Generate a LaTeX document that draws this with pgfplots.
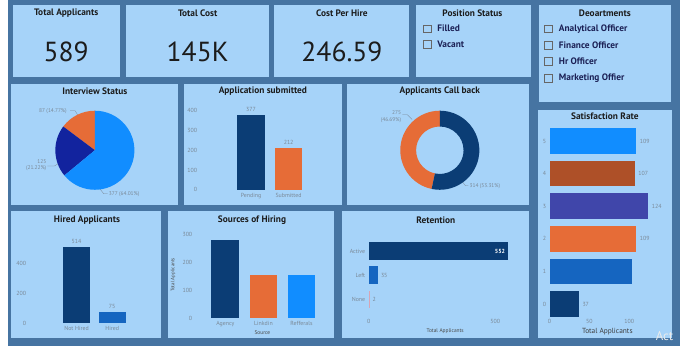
\documentclass[border=0pt]{standalone}
\usepackage{pgfplots}
\pgfplotsset{compat=1.18}
\usepackage{fontspec}
\setmainfont{PT Sans}
\definecolor{bg}{HTML}{4674A2}
\definecolor{panel}{HTML}{A6D3F9}
\definecolor{navy}{HTML}{0B3D75}
\definecolor{pbblue}{HTML}{118DFF}
\definecolor{pborange}{HTML}{E66C37}
\definecolor{pbnavy}{HTML}{12239E}
\definecolor{medblue}{HTML}{1565C0}
\definecolor{rust}{HTML}{AE5028}
\definecolor{indigo}{HTML}{4046AA}
\definecolor{pinkish}{HTML}{D8A4B4}
\definecolor{tickgray}{HTML}{7A8896}
\definecolor{titlec}{HTML}{1C1C1C}
\definecolor{slicer}{HTML}{1B2055}
\pgfplotsset{
 /pgf/number format/assume math mode=true,
 dashax/.style={scale only axis, clip=false,
   axis line style={draw=none}, tick style={draw=none}, major tick length=0pt,
   ticklabel style={font=\fontsize{6}{7}\selectfont, text=tickgray},
   every node near coord/.append style={font=\fontsize{6}{7}\selectfont, text=tickgray}}
}
\newcommand\ttlf{\fontsize{9.5}{11}\selectfont\bfseries}
\newcommand\slf{\fontsize{9.5}{11}\selectfont\bfseries}
\newcommand\lblf{\fontsize{5.5}{6.5}\selectfont}
\begin{document}
\pgfmathsetmacro\pA{90+87/589*360}
\pgfmathsetmacro\pB{\pA+125/589*360}
\pgfmathsetmacro\dA{90+275/589*360}
\begin{tikzpicture}
\begin{scope}[x=1bp,y=-1bp]
\fill[bg] (0,0) rectangle (680,350);
\foreach \a/\b/\c/\d in {5/5/113/78, 119/5/264/78, 269/5/406/78, 413/5/529/78, 537/5/671/103, 3/85/172/207, 178/85/338/207, 343/85/527/207, 536/111/672/342, 3/213/155/342, 162/213/330/342, 338/213/527/342}
  \fill[panel] (\a,\b) rectangle (\c,\d);
% titles
\node[text=titlec,font=\ttlf] at (59,13) {Total Applicants};
\node[text=titlec,font=\ttlf] at (192,13) {Total Cost};
\node[text=titlec,font=\ttlf] at (338,13) {Cost Per Hire};
\node[text=titlec,font=\ttlf] at (470,13) {Position Status};
\node[text=titlec,font=\ttlf] at (604,13) {Deoartments};
\node[text=titlec,font=\ttlf] at (88,92) {Interview Status};
\node[text=titlec,font=\ttlf] at (258,92) {Application submitted};
\node[text=titlec,font=\ttlf] at (437,92) {Applicants Call back};
\node[text=titlec,font=\ttlf] at (604,118) {Satisfaction Rate};
\node[text=titlec,font=\ttlf] at (80,223) {Hired Applicants};
\node[text=titlec,font=\ttlf] at (247,223) {Sources of Hiring};
\node[text=titlec,font=\ttlf] at (433,223) {Retention};
% KPI numbers
\node[text=titlec,font=\fontsize{28}{30}\selectfont] at (59,52) {589};
\node[text=titlec,font=\fontsize{28}{30}\selectfont] at (192,52) {145K};
\node[text=titlec,font=\fontsize{28}{30}\selectfont] at (338,52) {246.59};
% slicers
\foreach \y/\t in {29/Filled, 45/Vacant}{
  \draw[gray!80!black, line width=0.4bp] (420,\y-4) rectangle (428,\y+4);
  \node[anchor=west,text=slicer,font=\slf] at (431,\y) {\t};}
\foreach \y/\t in {29/Analytical Officer, 46/Finance Officer, 62/Hr Officer, 79/Marketing Offier}{
  \draw[gray!80!black, line width=0.4bp] (543,\y-4) rectangle (551,\y+4);
  \node[anchor=west,text=slicer,font=\slf] at (554,\y) {\t};}
% pie labels
\draw[tickgray, line width=0.3bp] (63,112) -- (68,112) -- (71,117);
\node[anchor=east,text=tickgray,font=\lblf] at (63,112) {87 (14.77\%)};
\draw[tickgray, line width=0.3bp] (40,168) -- (47,168) -- (52,165);
\node[anchor=east,align=right,text=tickgray,font=\lblf,inner sep=1bp] at (40,167) {125\\(21.22\%)};
\draw[tickgray, line width=0.3bp] (93,191) -- (97,196) -- (101,196);
\node[anchor=west,text=tickgray,font=\lblf,inner sep=1bp] at (101,196) {377 (64.01\%)};
% donut labels
\draw[tickgray, line width=0.3bp] (399,116) -- (404,116) -- (409,121);
\node[anchor=east,align=right,text=tickgray,font=\lblf,inner sep=1bp] at (399,118) {275\\(46.69\%)};
\draw[tickgray, line width=0.3bp] (460,184) -- (463,188) -- (466,188);
\node[anchor=west,text=tickgray,font=\lblf,inner sep=1bp] at (466,188) {314 (53.31\%)};
\node[anchor=west,text=white!85!gray,font=\fontsize{13}{14}\selectfont] at (652,340) {Act};
\end{scope}

% Interview Status pie
\begin{axis}[hide axis, scale only axis, width=80bp, height=80bp, xmin=-1,xmax=1,ymin=-1,ymax=1, at={(88bp,-152bp)}, anchor=center, clip=false]
\fill[pborange] (axis cs:0,0) -- ([shift={(90:40bp)}]axis cs:0,0) arc[start angle=90,end angle=\pA,radius=40bp] -- cycle;
\fill[pbnavy] (axis cs:0,0) -- ([shift={(\pA:40bp)}]axis cs:0,0) arc[start angle=\pA,end angle=\pB,radius=40bp] -- cycle;
\fill[pbblue] (axis cs:0,0) -- ([shift={(\pB:40bp)}]axis cs:0,0) arc[start angle=\pB,end angle=450,radius=40bp] -- cycle;
\end{axis}

% Applicants Call back donut
\begin{axis}[hide axis, scale only axis, width=80bp, height=80bp, xmin=-1,xmax=1,ymin=-1,ymax=1, at={(437bp,-152bp)}, anchor=center, clip=false]
\fill[pborange] ([shift={(90:40bp)}]axis cs:0,0) arc[start angle=90,end angle=\dA,radius=40bp] -- ([shift={(\dA:24bp)}]axis cs:0,0) arc[start angle=\dA,end angle=90,radius=24bp] -- cycle;
\fill[navy] ([shift={(\dA:40bp)}]axis cs:0,0) arc[start angle=\dA,end angle=450,radius=40bp] -- ([shift={(450:24bp)}]axis cs:0,0) arc[start angle=450,end angle=\dA,radius=24bp] -- cycle;
\end{axis}

% Application submitted
\begin{axis}[dashax, at={(195bp,-192bp)}, anchor=south west, width=135bp, height=84bp,
  xmin=-1.342, xmax=2.21, ymin=0, ymax=420, ybar, bar shift=0pt, bar width=28bp,
  xtick={0,1}, xticklabels={Pending,Submitted}, ytick={0,100,200,300,400}, nodes near coords]
\addplot[fill=navy, draw=none, bar shift=0pt] coordinates {(0,377)};
\addplot[fill=pborange, draw=none, bar shift=0pt] coordinates {(1,212)};
\end{axis}

% Hired Applicants
\begin{axis}[dashax, at={(22bp,-327bp)}, anchor=south west, width=128bp, height=87bp,
  xmin=-1.319, xmax=2.236, ymin=0, ymax=580, ybar, bar shift=0pt, bar width=27bp,
  xtick={0,1}, xticklabels={Not Hired,Hired}, ytick={0,200,400}, nodes near coords]
\addplot[fill=navy, draw=none, bar shift=0pt] coordinates {(0,514)};
\addplot[fill=medblue, draw=none, bar shift=0pt] coordinates {(1,75)};
\end{axis}

% Sources of Hiring
\begin{axis}[dashax, at={(190bp,-322bp)}, anchor=south west, width=135bp, height=87.7bp,
  xmin=-0.779, xmax=2.727, ymin=0, ymax=310, ybar, bar shift=0pt, bar width=28bp,
  xtick={0,1,2}, xticklabels={Agency,Linkdin,Refferals}, ytick={0,100,200,300},
  xlabel={Source}, ylabel={Total Applicants},
  every axis y label/.append style={at={(axis description cs:-0.17,0.5)}, anchor=center, font=\fontsize{5}{6}\selectfont, text=titlec!80},
  every axis x label/.append style={at={(axis description cs:0.5,0)}, anchor=north, yshift=-9bp, font=\fontsize{5.5}{6.5}\selectfont, text=titlec!80}]
\addplot[fill=navy, draw=none, bar shift=0pt] coordinates {(0,281)};
\addplot[fill=pborange, draw=none, bar shift=0pt] coordinates {(1,154)};
\addplot[fill=pbblue, draw=none, bar shift=0pt] coordinates {(2,154)};
\end{axis}

% Retention
\begin{axis}[dashax, at={(365bp,-320bp)}, anchor=south west, width=155bp, height=82bp,
  xmin=0, xmax=605, ymin=-0.694, ymax=2.653, xbar, bar shift=0pt, bar width=18bp,
  ytick={0,1,2}, yticklabels={None,Left,Active}, xtick={0,500},
  xlabel={Total Applicants},
  every axis x label/.append style={at={(axis description cs:0.5,0)}, anchor=north, yshift=-9bp, font=\fontsize{5.5}{6.5}\selectfont, text=titlec!80}]
\addplot[fill=navy, draw=none, bar shift=0pt, nodes near coords,
  every node near coord/.append style={anchor=east, text=white, font=\fontsize{6}{7}\selectfont\bfseries}] coordinates {(552,2)};
\addplot[fill=medblue, draw=none, bar shift=0pt, nodes near coords] coordinates {(35,1)};
\addplot[fill=pinkish, draw=none, bar shift=0pt, nodes near coords] coordinates {(2,0)};
\end{axis}

% Satisfaction Rate
\begin{axis}[dashax, at={(548bp,-320bp)}, anchor=south west, width=117bp, height=192bp,
  xmin=0, xmax=145, ymin=-0.373, ymax=5.445, xbar, bar shift=0pt, bar width=26bp,
  ytick={0,1,2,3,4,5}, xtick={0,50,100},
  xlabel={Total Applicants},
  every axis x label/.append style={at={(axis description cs:0.5,0)}, anchor=north, yshift=-9bp, font=\fontsize{7.5}{9}\selectfont, text=titlec!85}]
\addplot[fill=pbblue, draw=none, bar shift=0pt, nodes near coords] coordinates {(109,5)};
\addplot[fill=rust, draw=none, bar shift=0pt, nodes near coords] coordinates {(107,4)};
\addplot[fill=indigo, draw=none, bar shift=0pt, nodes near coords] coordinates {(124,3)};
\addplot[fill=pborange, draw=none, bar shift=0pt, nodes near coords] coordinates {(109,2)};
\addplot[fill=medblue, draw=none, bar shift=0pt] coordinates {(103,1)};
\addplot[fill=navy, draw=none, bar shift=0pt, nodes near coords] coordinates {(37,0)};
\end{axis}
\pgfresetboundingbox
\useasboundingbox (0,0) rectangle (680bp,-350bp);
\end{tikzpicture}
\end{document}
